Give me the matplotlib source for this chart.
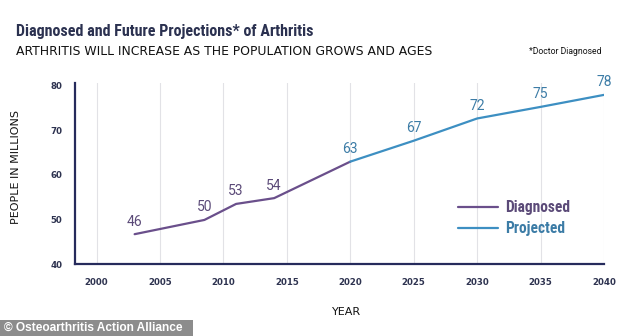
import matplotlib.pyplot as plt
from matplotlib.patches import Rectangle

# Data (millions of people)
diag_years = [2003, 2008.5, 2011, 2014, 2020]
diag_values = [46.7, 49.9, 53.5, 54.8, 63.0]
diag_labels = ["46", "50", "53", "54"]

proj_years = [2020, 2025, 2030, 2035, 2040]
proj_values = [63.0, 67.7, 72.7, 75.3, 78.0]
proj_labels = ["63", "67", "72", "75", "78"]

x_ticks = [2000, 2005, 2010, 2015, 2020, 2025, 2030, 2035, 2040]
y_ticks = [40, 50, 60, 70, 80]

# Colours
purple = "#6a4f8b"
purple_txt = "#5b4a78"
blue = "#3d8fc2"
blue_txt = "#3c7ca6"
navy = "#262b5c"
tick_col = "#2e3350"

narrow = ["Roboto Condensed", "Liberation Sans Narrow", "Noto Sans"]

W, H = 634, 336
fig = plt.figure(figsize=(W / 100, H / 100), dpi=100)
fig.patch.set_facecolor("white")

ax = fig.add_axes([75 / W, 1 - 264 / H, (604 - 75) / W, (264 - 83) / H])

ax.plot(diag_years, diag_values, color=purple, lw=1.6, label="Diagnosed", solid_capstyle="round")
ax.plot(proj_years, proj_values, color=blue, lw=1.6, label="Projected", solid_capstyle="round")

# value labels above each point
for x, y, t in zip(diag_years, diag_values, diag_labels):
    ax.annotate(t, (x, y), xytext=(0, 9), textcoords="offset points",
                ha="center", va="center", fontsize=10, color=purple_txt, family="Roboto")
for x, y, t in zip(proj_years, proj_values, proj_labels):
    ax.annotate(t, (x, y), xytext=(0, 9), textcoords="offset points",
                ha="center", va="center", fontsize=10, color=blue_txt, family="Roboto")

ax.set_xlim(1998.3, 2040)
ax.set_ylim(40, 80.67)
ax.set_xticks(x_ticks)
ax.set_yticks(y_ticks)
ax.set_xticklabels([str(v) for v in x_ticks], fontsize=6.2, fontweight="bold", color=tick_col)
ax.set_yticklabels([str(v) for v in y_ticks], fontsize=6.2, fontweight="bold", color=tick_col)
ax.tick_params(axis="both", length=0)
ax.tick_params(axis="x", pad=10)
ax.tick_params(axis="y", pad=9)

ax.grid(axis="x", color="#e2e2e6", lw=0.8)
ax.grid(axis="y", visible=False)
ax.set_axisbelow(True)

for side in ["top", "right"]:
    ax.spines[side].set_visible(False)
for side in ["left", "bottom"]:
    ax.spines[side].set_color(navy)
    ax.spines[side].set_linewidth(1.6)

ax.set_xlabel("YEAR", fontsize=8, color="#111111")
ax.xaxis.set_label_coords((347 - 75) / (604 - 75), -(307 - 264) / (264 - 83))
ax.set_ylabel("PEOPLE IN MILLIONS", fontsize=8, color="#111111")
ax.yaxis.set_label_coords(-(75 - 20.7) / (604 - 75), (264 - 167.5) / (264 - 83))

leg = ax.legend(loc="upper left", bbox_to_anchor=((444 - 75) / (604 - 75), (264 - 186) / (264 - 83)),
                frameon=False, handlelength=2.56, handletextpad=0.45, labelspacing=0.4,
                prop={"family": narrow, "weight": "bold", "size": 11.2, "stretch": "condensed"})
for txt, c in zip(leg.get_texts(), [purple_txt, blue_txt]):
    txt.set_color(c)

# titles
fig.text(16 / W, 1 - 31.7 / H, "Diagnosed and Future Projections* of Arthritis",
         fontsize=11.5, fontweight="bold", family=narrow, fontstretch="condensed",
         color="#2b3150", va="center", ha="left")
fig.text(16 / W, 1 - 51.7 / H, "ARTHRITIS WILL INCREASE AS THE POPULATION GROWS AND AGES",
         fontsize=8.95, family="DejaVu Sans", color="#111111", va="center", ha="left")
fig.text(529 / W, 1 - 52 / H, "*Doctor Diagnosed", fontsize=6.2, family="Roboto",
         color="#111111", va="center", ha="left")

# copyright tag
fig.patches.append(Rectangle((0, 0), 193 / W, 16 / H, transform=fig.transFigure,
                             facecolor="#8c8c8c", edgecolor="none"))
fig.text(4 / W, 8 / H, "\u00a9 Osteoarthritis Action Alliance", fontsize=8.6, fontweight="bold",
         family="Liberation Sans", color="white", va="center", ha="left")

fig.savefig("out.png", dpi=100)
